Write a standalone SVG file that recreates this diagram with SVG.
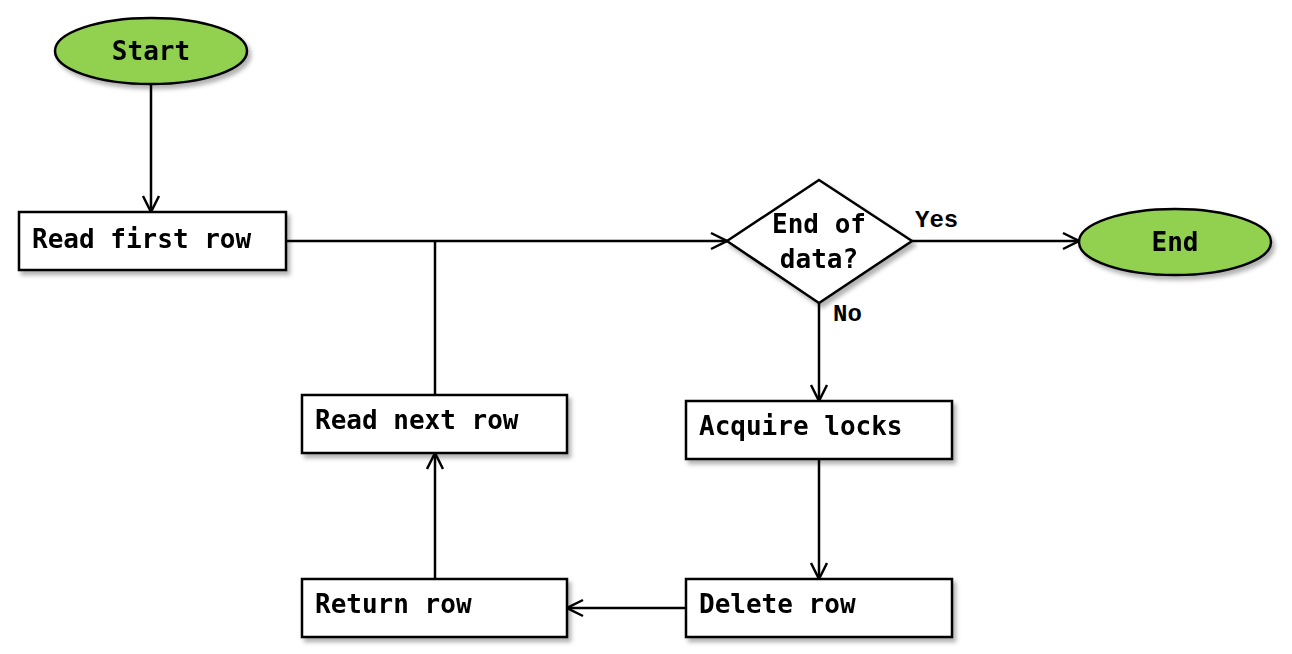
<svg xmlns="http://www.w3.org/2000/svg" width="1292" height="654" viewBox="0 0 1292 654">
<style>
.n{fill:#fff;stroke:#000;stroke-width:2.5}
.t{fill:#92d050;stroke:#000;stroke-width:2.5}
.l{font-family:"DejaVu Sans Mono","Liberation Mono",monospace;font-weight:bold;font-size:26px;fill:#000}
.e{font-family:"Liberation Mono","Courier New",monospace;font-weight:bold;font-size:24px;fill:#000}
.c{fill:none;stroke:#000;stroke-width:2.5}
</style>
<defs>
<marker id="a" viewBox="0 0 20 20" refX="18" refY="10" markerWidth="20" markerHeight="20" markerUnits="userSpaceOnUse" orient="auto">
<path d="M2,2 L18,10 L2,18" fill="none" stroke="#000" stroke-width="2.5"/>
</marker>
<filter id="s" x="-10%" y="-10%" width="130%" height="140%"><feDropShadow dx="3" dy="4" stdDeviation="2" flood-opacity="0.3"/></filter>
</defs>
<g id="connectors">
<path class="c" d="M151,84 L151,212" marker-end="url(#a)"/>
<path class="c" d="M286,241 L727,241" marker-end="url(#a)"/>
<path class="c" d="M435,395 L435,241"/>
<path class="c" d="M912,241 L1079,241" marker-end="url(#a)"/>
<path class="c" d="M819,303 L819,401" marker-end="url(#a)"/>
<path class="c" d="M819,459 L819,579" marker-end="url(#a)"/>
<path class="c" d="M686,608 L567,608" marker-end="url(#a)"/>
<path class="c" d="M435,579 L435,453" marker-end="url(#a)"/>
<text class="e" x="915" y="227">Yes</text>
<text class="e" x="833" y="321">No</text>
</g>
<g id="start" filter="url(#s)"><ellipse class="t" cx="151" cy="51" rx="96" ry="33"/><text class="l" x="151" y="60" text-anchor="middle">Start</text></g>
<g id="readfirst" filter="url(#s)"><rect class="n" x="19" y="212" width="267" height="58"/><text class="l" x="32" y="248">Read first row</text></g>
<g id="decision" filter="url(#s)"><path class="n" d="M819,180 L912,241 L819,303 L727,241 Z"/><text class="l" x="819" y="233" text-anchor="middle">End of</text><text class="l" x="819" y="268" text-anchor="middle">data?</text></g>
<g id="end" filter="url(#s)"><ellipse class="t" cx="1175" cy="242" rx="96" ry="33"/><text class="l" x="1175" y="251" text-anchor="middle">End</text></g>
<g id="readnext" filter="url(#s)"><rect class="n" x="302" y="395" width="265" height="58"/><text class="l" x="315" y="429">Read next row</text></g>
<g id="acquire" filter="url(#s)"><rect class="n" x="686" y="401" width="266" height="58"/><text class="l" x="699" y="435">Acquire locks</text></g>
<g id="return" filter="url(#s)"><rect class="n" x="302" y="579" width="265" height="58"/><text class="l" x="315" y="613">Return row</text></g>
<g id="delete" filter="url(#s)"><rect class="n" x="686" y="579" width="266" height="58"/><text class="l" x="699" y="613">Delete row</text></g>
</svg>
